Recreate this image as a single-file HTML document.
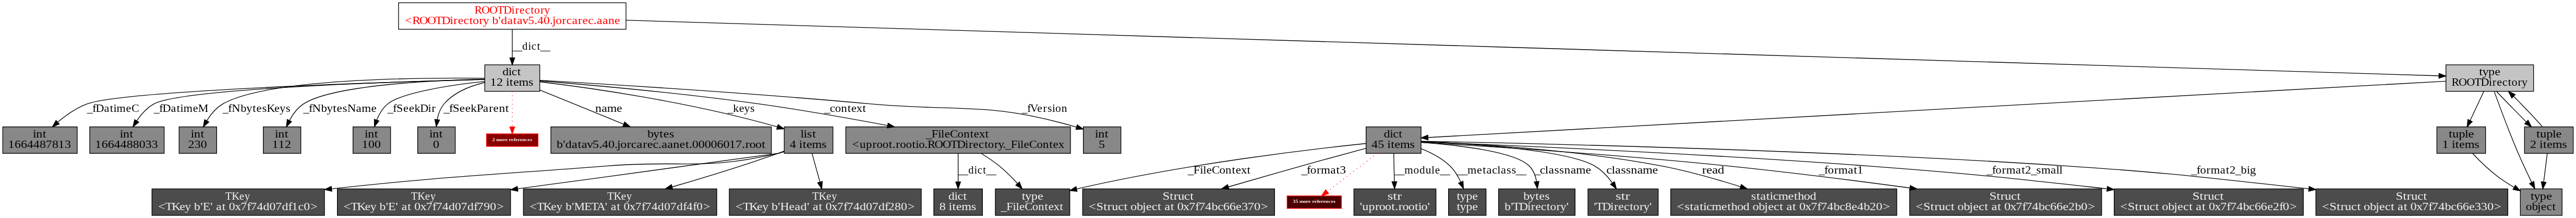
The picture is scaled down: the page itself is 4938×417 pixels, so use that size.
<!DOCTYPE html>
<html><head><meta charset="utf-8"><title>ObjectGraph</title>
<style>
html,body{margin:0;padding:0;background:#fff;}
body{width:4938px;height:417px;overflow:hidden;}
svg{display:block;will-change:transform;}
text{font-family:"Liberation Serif",serif;stroke:none;text-anchor:middle;}
</style></head>
<body>
<svg width="4938" height="417" viewBox="0 0 3703.5 312.75">
<g transform="translate(4 309)" stroke="black" stroke-width="1" font-size="15.6">
<rect x="569" y="-305" width="327" height="38" fill="#ffffff"/>
<text x="643.65 653.59 664.25 673.91 683.55 690.84 696.11 702.89 710.39 716.78 723.2 730.38 736.91" y="-289.8" transform="scale(1.0621 1)" fill="red">ROOTDirectory</text>
<text x="513.29 523.36 532.77 542.86 552 561.12 568.02 573 579.41 586.5 592.56 598.63 605.42 611.6 617.14 623.2 628.66 634.24 641.87 648.15 654.16 661.31 668.63 674.61 680.33 688.31 694.19 697.75 703.66 710.45 716.67 723.78 730.56 736.98 744.07 749.51 755.1 762.44 770.1 777.68" y="-274.8" transform="scale(1.1361 1)" fill="red">&lt;ROOTDirectory b'datav5.40.jorcarec.aane</text>
<rect x="693" y="-216" width="79" height="38" fill="#c4c4c4"/>
<text x="637.91 643.87 649.13 655.12" y="-200.8" transform="scale(1.1331 1)">dict</text>
<text x="606.39 614.4 620.32 624.28 628.72 634.65 644.1 653" y="-185.8" transform="scale(1.1629 1)">12 items</text>
<path d="M732.5,-266.97 C732.5,-255.19 732.5,-239.56 732.5,-226.16" fill="none"/>
<polygon points="736,-226 732.5,-216 729,-226 736,-226" fill="black" stroke="black"/>
<text x="738.89 745.85 753.74 760.54 766.56 773.4 779.56 786.52" y="-237.8" transform="scale(0.996 1)">__dict__</text>
<rect x="3512.5" y="-216" width="126" height="38" fill="#c4c4c4"/>
<text x="3057.61 3063.31 3070.82 3078.26" y="-200.8" transform="scale(1.1652 1)">type</text>
<text x="3308.18 3318.12 3328.78 3338.44 3348.08 3355.37 3360.64 3367.42 3374.91 3381.31 3387.73 3394.91 3401.44" y="-185.8" transform="scale(1.0659 1)">ROOTDirectory</text>
<path d="M896.08,-279.99 C1433.07,-263.56 3128.93,-211.67 3502.31,-200.24" fill="none"/>
<polygon points="3502.56,-203.73 3512.45,-199.93 3502.35,-196.74 3502.56,-203.73" fill="black" stroke="black"/>
<rect x="788" y="-127" width="317" height="38" fill="#888888"/>
<text x="790.56 797.61 803.68 809.58 816.32" y="-111.8" transform="scale(1.1781 1)">bytes</text>
<text x="687.84 693.18 698.64 706.12 712.27 718.15 725.16 732.33 738.19 743.79 751.61 757.37 760.87 766.64 773.29 779.38 786.35 792.99 799.28 806.23 811.55 817.02 824.21 831.72 839.15 845.27 849.51 855.26 862.93 870.6 878.27 885.87 893.62 900.95 908.74 914.72 919.64 926.02 933.28 939.43" y="-96.8" transform="scale(1.1642 1)">b'datav5.40.jorcarec.aanet.00006017.root</text>
<path d="M772,-179.94 C805.96,-166.14 855.24,-146.1 892.78,-130.84" fill="none"/>
<polygon points="894.11,-134.08 902.06,-127.07 891.48,-127.59 894.11,-134.08" fill="black" stroke="black"/>
<text x="744.04 751.55 760.98 770.29" y="-148.8" transform="scale(1.1508 1)">name</text>
<rect x="1212" y="-127" width="323" height="38" fill="#888888"/>
<text x="1209.82 1217.57 1223.95 1227.95 1233.73 1242.49 1251.11 1259.04 1265.81 1272 1279.42 1285.65" y="-111.8" transform="scale(1.1006 1)">_FileContext</text>
<text x="1114.33 1123.72 1131.96 1139.16 1145.88 1153.53 1160.01 1164.48 1169.68 1176.4 1184.05 1190.53 1195.08 1200.87 1206.49 1213.58 1223.29 1233.71 1243.14 1252.55 1259.68 1264.82 1271.44 1278.76 1285.01 1291.28 1298.29 1304.67 1308.69 1313.89 1321.61 1327.98 1331.97 1337.73 1346.47 1355.07 1362.98 1369.74 1375.92 1383.32" y="-96.8" transform="scale(1.1002 1)">&lt;uproot.rootio.ROOTDirectory._FileContex</text>
<path d="M772.17,-192.94 C837.76,-187.65 972.85,-175.85 1086.5,-160 1148.31,-151.38 1217.17,-139.23 1271.95,-128.95" fill="none"/>
<polygon points="1272.83,-132.34 1282.01,-127.05 1271.53,-125.47 1272.83,-132.34" fill="black" stroke="black"/>
<text x="1079.75 1086.39 1093.73 1101.58 1108.27 1114.39 1121.73 1127.89" y="-148.8" transform="scale(1.098 1)">_context</text>
<rect x="1123.5" y="-127" width="70" height="38" fill="#888888"/>
<text x="994.23 998.22 1003.26 1008.98" y="-111.8" transform="scale(1.156 1)">list</text>
<text x="974.37 980.34 984.3 988.73 994.66 1004.11 1013" y="-96.8" transform="scale(1.1657 1)">4 items</text>
<path d="M772.17,-191.62 C840.57,-183.46 984.94,-163.63 1113.56,-126.97" fill="none"/>
<polygon points="1114.55,-130.33 1123.19,-124.19 1112.61,-123.61 1114.55,-130.33" fill="black" stroke="black"/>
<text x="990.46 997.8 1005.53 1013.04 1020.21" y="-148.8" transform="scale(1.0563 1)">_keys</text>
<rect x="1553.5" y="-127" width="54" height="38" fill="#888888"/>
<text x="1355.89 1361.63 1368.04" y="-111.8" transform="scale(1.16 1)">int</text>
<text x="1361.09" y="-96.8" transform="scale(1.1608 1)">5</text>
<path d="M772.2,-193.77 C858.56,-188.79 1069.88,-175.96 1246.5,-160 1375.97,-148.3 1414.81,-163.92 1543.55,-126.69" fill="none"/>
<polygon points="1544.79,-129.98 1553.39,-123.8 1542.81,-123.26 1544.79,-129.98" fill="black" stroke="black"/>
<text x="1414.9 1421.14 1428.1 1435.61 1442.98 1449.47 1455.14 1461.25 1469.6" y="-148.8" transform="scale(1.0384 1)">_fVersion</text>
<rect x="0" y="-127" width="107" height="38" fill="#888888"/>
<text x="39.49 45.22 51.64" y="-111.8" transform="scale(1.16 1)">int</text>
<text x="10.52 18.59 26.39 34.11 41.91 49.86 57.45 65.46 72.92 81.01" y="-96.8" transform="scale(1.1537 1)">1664487813</text>
<path d="M692.87,-194.99 C565.98,-191.57 174.88,-179.56 121.5,-160 105.96,-154.31 90.99,-143.82 79.07,-133.83" fill="none"/>
<polygon points="81.16,-131.01 71.34,-127.05 76.55,-136.27 81.16,-131.01" fill="black" stroke="black"/>
<text x="117.18 123.26 130.61 139.66 146.33 151.02 159.26 169.29 178.3" y="-148.8" transform="scale(1.0686 1)">_fDatimeC</text>
<rect x="125" y="-127" width="107" height="38" fill="#888888"/>
<text x="146.89 152.63 159.04" y="-111.8" transform="scale(1.1629 1)">int</text>
<text x="119.05 127.11 134.91 142.64 150.44 158.38 166.18 173.98 181.73 189.53" y="-96.8" transform="scale(1.153 1)">1664488033</text>
<path d="M692.6,-195.09 C578.94,-192.24 258.93,-182.31 217.5,-160 207.31,-154.51 198.97,-145.09 192.66,-135.82" fill="none"/>
<polygon points="195.49,-133.76 187.23,-127.12 189.55,-137.46 195.49,-133.76" fill="black" stroke="black"/>
<text x="207.03 213.12 220.48 229.54 236.22 240.91 249.16 259.21 269.82" y="-148.8" transform="scale(1.0685 1)">_fDatimeM</text>
<rect x="253.5" y="-127" width="54" height="38" fill="#888888"/>
<text x="234.6 240.34 246.75" y="-111.8" transform="scale(1.1629 1)">int</text>
<text x="234.54 242.38 250.23" y="-96.8" transform="scale(1.1553 1)">230</text>
<path d="M692.92,-196.74 C601.75,-197.79 379.92,-196.41 316.5,-160 306.84,-154.45 299.14,-145.15 293.37,-135.99" fill="none"/>
<polygon points="296.26,-133.97 288.26,-127.02 290.18,-137.44 296.26,-133.97" fill="black" stroke="black"/>
<text x="294.8 300.86 308.57 318.62 326.21 332.72 339.06 346.29 354.82 362.85 370.32 377.44" y="-148.8" transform="scale(1.0864 1)">_fNbytesKeys</text>
<rect x="374.5" y="-127" width="54" height="38" fill="#888888"/>
<text x="339.49 345.23 351.64" y="-111.8" transform="scale(1.16 1)">int</text>
<text x="339.17 346.97 355.01" y="-96.8" transform="scale(1.1547 1)">112</text>
<path d="M692.73,-195.47 C621.27,-193.83 474.68,-187.15 432.5,-160 423.71,-154.34 417.03,-145.21 412.16,-136.23" fill="none"/>
<polygon points="415.24,-134.56 407.74,-127.08 408.94,-137.61 415.24,-134.56" fill="black" stroke="black"/>
<text x="393.51 399.38 406.87 416.63 423.99 430.3 436.45 443.46 452.23 461.52 471.33 481.01" y="-148.8" transform="scale(1.1089 1)">_fNbytesName</text>
<rect x="503.5" y="-127" width="54" height="38" fill="#888888"/>
<text x="450.7 456.44 462.85" y="-111.8" transform="scale(1.16 1)">int</text>
<text x="451.09 459.23 467.03" y="-96.8" transform="scale(1.1542 1)">100</text>
<path d="M692.6,-192.23 C646.59,-187.16 574.57,-176.79 553.5,-160 546.1,-154.11 541.01,-145.32 537.53,-136.69" fill="none"/>
<polygon points="540.82,-135.5 534.26,-127.18 534.2,-137.78 540.82,-135.5" fill="black" stroke="black"/>
<text x="519.4 525.42 531.91 540.13 547.8 555.68 564.8 572.07 577.32" y="-148.8" transform="scale(1.0728 1)">_fSeekDir</text>
<rect x="596.5" y="-127" width="54" height="38" fill="#888888"/>
<text x="530.88 536.61 543.03" y="-111.8" transform="scale(1.16 1)">int</text>
<text x="538.31" y="-96.8" transform="scale(1.1574 1)">0</text>
<path d="M692.96,-190.69 C672.7,-185.94 649.25,-176.96 634.5,-160 629.07,-153.75 626.11,-145.46 624.56,-137.39" fill="none"/>
<polygon points="628.02,-136.91 623.26,-127.44 621.08,-137.81 628.02,-136.91" fill="black" stroke="black"/>
<text x="570.36 576.13 582.37 590.25 597.61 605.17 613.26 620.35 627.21 633.69 641.4 648.02" y="-148.8" transform="scale(1.1189 1)">_fSeekParent</text>
<rect x="695.5" y="-117" width="74" height="18" fill="#880000" stroke="red"/>
<text x="635.39 638.12 641.63 645.95 649.03 651.9 654.45 656.75 659.61 662.52 664.96 668.04 670.91 674.35 677.7 680.89 683.99" y="-106.7" transform="scale(1.1106 1)" fill="#eeeeee" font-size="6.8" font-weight="bold">2 more references</text>
<path d="M732.5,-177.97 C732.5,-163.06 732.5,-141.98 732.5,-127.06" fill="none" stroke="red" stroke-dasharray="1,5"/>
<polygon points="736,-127.05 732.5,-117.05 729,-127.05 736,-127.05" fill="red" stroke="red"/>
<rect x="1960" y="-127" width="79" height="38" fill="#888888"/>
<text x="1756.37 1762.33 1767.59 1773.58" y="-111.8" transform="scale(1.133 1)">dict</text>
<text x="1694.62 1702.43 1708.36 1712.32 1716.75 1722.69 1732.14 1741.04" y="-96.8" transform="scale(1.1639 1)">45 items</text>
<path d="M3512.26,-192.51 C3253.83,-178.24 2280.75,-124.53 2049.18,-111.74" fill="none"/>
<polygon points="2049.21,-108.24 2039.03,-111.18 2048.83,-115.23 2049.21,-108.24" fill="black" stroke="black"/>
<rect x="3625.5" y="-127" width="70" height="38" fill="#888888"/>
<text x="3081.2 3087.35 3095.14 3100.85 3106.3" y="-111.8" transform="scale(1.183 1)">tuple</text>
<text x="3121.2 3127.12 3131.07 3135.51 3141.44 3150.88 3159.78" y="-96.8" transform="scale(1.1656 1)">2 items</text>
<path d="M3585.3,-177.76 C3590.56,-172.09 3596.81,-165.81 3602.5,-160 3610.74,-151.59 3619.69,-142.32 3628.12,-134.02" fill="none"/>
<polygon points="3630.61,-136.49 3635.38,-127.02 3625.75,-131.45 3630.61,-136.49" fill="black" stroke="black"/>
<rect x="3499.5" y="-127" width="70" height="38" fill="#888888"/>
<text x="2974.69 2980.84 2988.63 2994.34 2999.78" y="-111.8" transform="scale(1.183 1)">tuple</text>
<text x="3014.09 3020.25 3024.2 3028.64 3034.57 3044.01 3052.91" y="-96.8" transform="scale(1.1651 1)">1 items</text>
<path d="M3567,-177.97 C3561.34,-165.96 3553.79,-149.94 3547.4,-136.36" fill="none"/>
<polygon points="3550.41,-134.56 3542.98,-127 3544.08,-137.54 3550.41,-134.56" fill="black" stroke="black"/>
<rect x="3619.5" y="-38" width="60" height="38" fill="#888888"/>
<text x="3106.2 3111.91 3119.41 3126.86" y="-22.8" transform="scale(1.1708 1)">type</text>
<text x="3216.98 3224.77 3230.14 3235.93 3243 3249.04" y="-7.8" transform="scale(1.1289 1)">object</text>
<path d="M3582.02,-177.65 C3589.77,-156.19 3603.3,-119.7 3616.5,-89 3622.48,-75.1 3629.67,-59.9 3635.81,-47.32" fill="none"/>
<polygon points="3638.99,-48.78 3640.27,-38.27 3632.71,-45.69 3638.99,-48.78" fill="black" stroke="black"/>
<rect x="1338.5" y="-38" width="70" height="38" fill="#4c4c4c"/>
<text x="1202.71 1208.68 1213.94 1219.92" y="-22.8" transform="scale(1.134 1)" fill="#eeeeee">dict</text>
<text x="1160.44 1166.26 1170.22 1174.65 1180.58 1190.02 1198.92" y="-7.8" transform="scale(1.1643 1)" fill="#eeeeee">8 items</text>
<path d="M1373.5,-88.97 C1373.5,-77.19 1373.5,-61.56 1373.5,-48.16" fill="none"/>
<polygon points="1377,-48 1373.5,-38 1370,-48 1377,-48" fill="black" stroke="black"/>
<text x="1393.62 1400.58 1408.47 1415.28 1421.29 1428.13 1434.3 1441.26" y="-59.8" transform="scale(0.9883 1)">__dict__</text>
<rect x="1427" y="-38" width="107" height="38" fill="#4c4c4c"/>
<text x="1253.58 1259.28 1266.79 1274.24" y="-22.8" transform="scale(1.1708 1)" fill="#eeeeee">type</text>
<text x="1317.54 1325.28 1331.67 1335.67 1341.44 1350.2 1358.82 1366.75 1373.53 1379.72 1387.14 1393.37" y="-7.8" transform="scale(1.0923 1)" fill="#eeeeee">_FileContext</text>
<path d="M1406.71,-88.87 C1415.42,-83.56 1424.58,-77.43 1432.5,-71 1441.75,-63.49 1450.95,-54.26 1458.79,-45.72" fill="none"/>
<polygon points="1461.51,-47.93 1465.56,-38.14 1456.29,-43.27 1461.51,-47.93" fill="black" stroke="black"/>
<rect x="214.5" y="-38" width="248" height="38" fill="#4c4c4c"/>
<text x="324.44 334.67 343.26 351.26" y="-22.8" transform="scale(1.0007 1)" fill="#eeeeee">TKey</text>
<text x="199.95 209.27 218.32 225.95 233.05 238.62 244.71 250.2 256.44 262.65 266.32 271.95 278.26 282.62 288.52 295.98 303.17 309.97 315.63 323.57 331.56 339.52 347.18 355.24 361.91 367.45 375.16 382.6 391.7" y="-7.8" transform="scale(1.1424 1)" fill="#eeeeee">&lt;TKey b'E' at 0x7f74d07df1c0&gt;</text>
<path d="M1123.27,-91.47 C1120.34,-90.52 1117.39,-89.68 1114.5,-89 1008.21,-64.02 978.35,-79.51 869.5,-71 695.83,-57.42 649.65,-57.24 472.89,-38.12" fill="none"/>
<polygon points="473.04,-34.62 462.72,-37.02 472.28,-41.58 473.04,-34.62" fill="black" stroke="black"/>
<rect x="481" y="-38" width="249" height="38" fill="#4c4c4c"/>
<text x="591.26 601.49 610.09 618.09" y="-22.8" transform="scale(1.0007 1)" fill="#eeeeee">TKey</text>
<text x="432.47 441.78 450.84 458.46 465.56 471.12 477.21 482.71 488.94 495.14 498.82 504.44 510.75 515.11 521.01 528.47 535.65 542.45 548.11 556.05 564.04 571.99 579.65 587.71 594.38 600.03 608.17 616 625.1" y="-7.8" transform="scale(1.1443 1)" fill="#eeeeee">&lt;TKey b'E' at 0x7f74d07df790&gt;</text>
<path d="M1123.22,-91.67 C1120.3,-90.68 1117.37,-89.77 1114.5,-89 1112.22,-88.39 890.51,-58.43 740.49,-38.19" fill="none"/>
<polygon points="740.64,-34.68 730.26,-36.82 739.7,-41.62 740.64,-34.68" fill="black" stroke="black"/>
<rect x="748.5" y="-38" width="278" height="38" fill="#4c4c4c"/>
<text x="873.08 883.31 891.9 899.91" y="-22.8" transform="scale(1.0007 1)" fill="#eeeeee">TKey</text>
<text x="684.93 694.49 703.79 711.62 718.91 724.62 730.87 736.52 744.78 755.93 764.79 772.94 779.27 783.04 788.82 795.3 799.77 805.83 813.48 820.87 827.85 833.66 841.81 850.02 858.18 866.06 874.33 881.18 887.05 893.97 899.99 909.34" y="-7.8" transform="scale(1.1131 1)" fill="#eeeeee">&lt;TKey b'META' at 0x7f74d07df4f0&gt;</text>
<path d="M1123.07,-92.17 C1120.18,-91.07 1117.3,-90 1114.5,-89 1064.35,-71.16 1006.99,-53.75 962.47,-40.88" fill="none"/>
<polygon points="963.18,-37.44 952.6,-38.04 961.24,-44.17 963.18,-37.44" fill="black" stroke="black"/>
<rect x="1044.5" y="-38" width="276" height="38" fill="#4c4c4c"/>
<text x="1170.93 1181.16 1189.75 1197.76" y="-22.8" transform="scale(0.998 1)" fill="#eeeeee">TKey</text>
<text x="924.56 933.83 942.84 950.44 957.5 963.04 969.11 974.57 981.65 990.63 997.95 1005.54 1011.24 1014.89 1020.49 1026.77 1031.11 1036.99 1044.41 1051.56 1058.33 1063.96 1071.87 1079.82 1087.75 1095.37 1103.39 1110.03 1115.78 1123.72 1131.56 1140.62" y="-7.8" transform="scale(1.145 1)" fill="#eeeeee">&lt;TKey b'Head' at 0x7f74d07df280&gt;</text>
<path d="M1163.47,-88.97 C1166.76,-77.08 1171.12,-61.25 1174.84,-47.76" fill="none"/>
<polygon points="1178.25,-48.57 1177.53,-38 1171.5,-46.71 1178.25,-48.57" fill="black" stroke="black"/>
<path d="M1959.76,-103.14 C1881.69,-95.1 1702.86,-74.39 1543.98,-37.98" fill="none"/>
<polygon points="1544.56,-34.52 1534.02,-35.67 1542.97,-41.34 1544.56,-34.52" fill="black" stroke="black"/>
<text x="1556.37 1564.11 1570.5 1574.49 1580.27 1589.03 1597.65 1605.58 1612.36 1618.55 1625.97 1632.19" y="-59.8" transform="scale(1.0975 1)">_FileContext</text>
<rect x="1942.5" y="-38" width="118" height="38" fill="#4c4c4c"/>
<text x="1534.91 1540.13 1545.08" y="-22.8" transform="scale(1.2996 1)" fill="#eeeeee">str</text>
<text x="1687.36 1692.89 1700.73 1707.57 1713.96 1721.23 1727.4 1731.65 1736.59 1742.98 1750.26 1756.42 1760.75 1766.26 1771.55" y="-7.8" transform="scale(1.1572 1)" fill="#eeeeee">'uproot.rootio'</text>
<path d="M1999.82,-88.59 C2000,-78.89 2000.24,-66.8 2000.5,-56 2000.56,-53.57 2000.62,-51.06 2000.69,-48.53" fill="none"/>
<polygon points="2004.19,-48.4 2000.96,-38.31 1997.19,-48.22 2004.19,-48.4" fill="black" stroke="black"/>
<text x="1967.47 1974.26 1984.11 1994.61 2002.99 2011.72 2018.29 2024.45 2031.89 2038.68" y="-59.8" transform="scale(1.0188 1)">__module__</text>
<rect x="2078.5" y="-38" width="54" height="38" fill="#4c4c4c"/>
<text x="1808.87 1814.58 1822.08 1829.53" y="-22.8" transform="scale(1.157 1)" fill="#eeeeee">type</text>
<text x="1808.87 1814.58 1822.08 1829.53" y="-7.8" transform="scale(1.157 1)" fill="#eeeeee">type</text>
<path d="M2039.07,-95.74 C2053.44,-90.13 2068.97,-82.1 2080.5,-71 2087.14,-64.61 2092.26,-56.09 2096.09,-47.85" fill="none"/>
<polygon points="2099.39,-49.02 2100,-38.44 2092.93,-46.33 2099.39,-49.02" fill="black" stroke="black"/>
<text x="1956.56 1963.08 1972.54 1982.54 1989.16 1995.54 2003.07 2008.84 2014.79 2022.05 2028.74 2035.36 2041.88" y="-59.8" transform="scale(1.0708 1)">__metaclass__</text>
<rect x="2150.5" y="-38" width="110" height="38" fill="#4c4c4c"/>
<text x="1888.17 1895.22 1901.29 1907.19 1913.92" y="-22.8" transform="scale(1.1602 1)" fill="#eeeeee">bytes</text>
<text x="1932.75 1938.27 1944.11 1953.33 1960.29 1965.32 1971.8 1978.96 1985.07 1991.2 1998.06 2004.3 2009.62" y="-7.8" transform="scale(1.1194 1)" fill="#eeeeee">b'TDirectory'</text>
<path d="M2039.22,-104.77 C2089.7,-101.1 2172.88,-91.98 2194.5,-71 2200.53,-65.14 2203.64,-56.83 2205.14,-48.61" fill="none"/>
<polygon points="2208.65,-48.77 2206.3,-38.44 2201.69,-47.99 2208.65,-48.77" fill="black" stroke="black"/>
<text x="1960.06 1966.62 1972.12 1977.79 1984.71 1991.09 1998.29 2005.97 2015.62 2025.15" y="-59.8" transform="scale(1.1256 1)">_classname</text>
<rect x="2279" y="-38" width="101" height="38" fill="#4c4c4c"/>
<text x="1781.87 1787.1 1792.05" y="-22.8" transform="scale(1.3035 1)" fill="#eeeeee">str</text>
<text x="2040.41 2046.27 2055.5 2062.48 2067.52 2074.01 2081.19 2087.31 2093.46 2100.33 2106.59 2111.91" y="-7.8" transform="scale(1.1218 1)" fill="#eeeeee">'TDirectory'</text>
<path d="M2039.13,-105.71 C2108.04,-102.87 2246.61,-94.37 2288.5,-71 2298.83,-65.24 2307.54,-55.73 2314.24,-46.47" fill="none"/>
<polygon points="2317.15,-48.41 2319.81,-38.15 2311.34,-44.51 2317.15,-48.41" fill="black" stroke="black"/>
<text x="1991.38 1996.75 2002.27 2009.03 2015.26 2022.28 2029.78 2039.2 2048.5" y="-59.8" transform="scale(1.1597 1)">classname</text>
<rect x="2398" y="-38" width="325" height="38" fill="#4c4c4c"/>
<text x="2140.63 2146.24 2152.12 2158.26 2162.57 2167.77 2176.9 2186.12 2192.23 2198.51 2205.93 2213.35" y="-22.8" transform="scale(1.1759 1)" fill="#eeeeee">staticmethod</text>
<text x="2060.95 2069.1 2074.73 2080.61 2086.77 2091.09 2096.31 2105.45 2114.7 2120.83 2127.12 2134.56 2141.99 2147.84 2153.39 2161.05 2166.34 2172.03 2178.98 2184.91 2189.16 2194.64 2200.79 2205.04 2210.8 2218.07 2225.07 2231.7 2237.21 2244.96 2252.98 2260.02 2267.27 2274.65 2281.94 2289.96 2297.4 2305.17 2314.05" y="-7.8" transform="scale(1.1703 1)" fill="#eeeeee">&lt;staticmethod object at 0x7f74bc8e4b20&gt;</text>
<path d="M2039.2,-105.76 C2109.4,-103.01 2259.85,-94.67 2384.5,-71 2422.9,-63.71 2464.99,-51.67 2498.37,-41.12" fill="none"/>
<polygon points="2499.53,-44.42 2507.99,-38.04 2497.4,-37.75 2499.53,-44.42" fill="black" stroke="black"/>
<text x="2040.14 2046.21 2053.12 2060.29" y="-59.8" transform="scale(1.199 1)">read</text>
<rect x="2741.5" y="-38" width="276" height="38" fill="#4c4c4c"/>
<text x="2393.78 2400.24 2405.44 2411.88 2418.95 2424.73" y="-22.8" transform="scale(1.1953 1)" fill="#eeeeee">Struct</text>
<text x="2346.04 2355.23 2361.84 2367.16 2373.75 2380.98 2386.9 2391.13 2396.65 2404.29 2409.57 2415.23 2422.15 2428.07 2432.3 2437.75 2443.89 2448.12 2453.85 2461.1 2468.07 2474.68 2480.17 2487.89 2495.88 2502.9 2510.04 2517.69 2525.12 2532.45 2540.38 2547.88 2556.73" y="-7.8" transform="scale(1.1745 1)" fill="#eeeeee">&lt;Struct object at 0x7f74bc66e2b0&gt;</text>
<path d="M2039.07,-104.73 C2121.25,-99.86 2316.33,-87.51 2479.5,-71 2566.82,-62.16 2664.55,-49.75 2741.55,-39.38" fill="none"/>
<polygon points="2742.35,-42.81 2751.79,-38 2741.41,-35.87 2742.35,-42.81" fill="black" stroke="black"/>
<text x="2353.91 2359.76 2365.53 2372.48 2381.35 2391.05 2397.48 2403.58" y="-59.8" transform="scale(1.111 1)">_format1</text>
<rect x="3035.5" y="-38" width="272" height="38" fill="#4c4c4c"/>
<text x="2642.93 2649.38 2654.58 2661.02 2668.09 2673.87" y="-22.8" transform="scale(1.1931 1)" fill="#eeeeee">Struct</text>
<text x="2603.37 2612.59 2619.22 2624.56 2631.16 2638.42 2644.35 2648.59 2654.14 2661.8 2667.08 2672.76 2679.71 2685.64 2689.89 2695.36 2701.51 2705.76 2711.51 2718.77 2725.76 2732.39 2737.9 2745.64 2753.66 2760.69 2767.86 2775.53 2782.98 2790.33 2796.83 2802.56 2811.43" y="-7.8" transform="scale(1.1713 1)" fill="#eeeeee">&lt;Struct object at 0x7f74bc66e2f0&gt;</text>
<path d="M2039.01,-105.49 C2143.6,-101.36 2436.33,-88.99 2679.5,-71 2830.68,-59.81 2870.8,-55.08 3024.96,-38.16" fill="none"/>
<polygon points="3025.73,-41.59 3035.29,-37.02 3024.96,-34.64 3025.73,-41.59" fill="black" stroke="black"/>
<text x="2603.36 2609.3 2615.13 2622.18 2631.16 2640.98 2647.49 2653.92 2661.28 2667.75 2677.11 2686.93 2692.81 2696.9" y="-59.8" transform="scale(1.0972 1)">_format2_small</text>
<rect x="3325.5" y="-38" width="276" height="38" fill="#4c4c4c"/>
<text x="2885.73 2892.18 2897.39 2903.82 2910.9 2916.67" y="-22.8" transform="scale(1.194 1)" fill="#eeeeee">Struct</text>
<text x="2842 2851.19 2857.8 2863.12 2869.71 2876.95 2882.86 2887.09 2892.62 2900.26 2905.54 2911.2 2918.13 2924.04 2928.27 2933.73 2939.87 2944.1 2949.83 2957.08 2964.05 2970.66 2976.16 2983.88 2991.87 2998.89 3006.03 3013.69 3021.12 3028.48 3036.13 3043.84 3052.68" y="-7.8" transform="scale(1.175 1)" fill="#eeeeee">&lt;Struct object at 0x7f74bc66e330&gt;</text>
<path d="M2039.11,-106.33 C2170.85,-103.91 2606.29,-94.56 2965.5,-71 3118.65,-60.96 3159.08,-55.1 3315.43,-38.11" fill="none"/>
<polygon points="3315.84,-41.58 3325.41,-37.02 3315.09,-34.62 3315.84,-41.58" fill="black" stroke="black"/>
<text x="2886.62 2892.56 2898.41 2905.47 2914.47 2924.31 2930.83 2937.27 2944.65 2952.11 2958.16 2964.18" y="-59.8" transform="scale(1.0914 1)">_format2_big</text>
<rect x="1552.5" y="-38" width="276" height="38" fill="#4c4c4c"/>
<text x="1400.76 1407.21 1412.41 1418.85 1425.92 1431.7" y="-22.8" transform="scale(1.194 1)" fill="#eeeeee">Struct</text>
<text x="1333.1 1342.29 1348.89 1354.22 1360.81 1368.04 1373.96 1378.19 1383.72 1391.36 1396.63 1402.3 1409.22 1415.14 1419.37 1424.83 1430.96 1435.2 1440.93 1448.18 1455.15 1461.76 1467.25 1474.98 1482.97 1489.98 1497.13 1504.78 1512.21 1519.58 1527.07 1534.93 1543.78" y="-7.8" transform="scale(1.175 1)" fill="#eeeeee">&lt;Struct object at 0x7f74bc66e370&gt;</text>
<path d="M1959.89,-96.36 C1933.66,-89.27 1898.49,-79.69 1867.5,-71 1832.76,-61.26 1794.26,-50.2 1762.06,-40.87" fill="none"/>
<polygon points="1762.86,-37.46 1752.28,-38.04 1760.91,-44.18 1762.86,-37.46" fill="black" stroke="black"/>
<text x="1681.32 1687.18 1692.94 1699.9 1708.77 1718.46 1724.89 1731.28" y="-59.8" transform="scale(1.1129 1)">_format3</text>
<rect x="1846.5" y="-28" width="78" height="18" fill="#4c0000" stroke="red"/>
<text x="1665.08 1668.62 1671.26 1674.76 1679.07 1682.15 1685 1687.55 1689.84 1692.7 1695.6 1698.03 1701.11 1703.97 1707.41 1710.74 1713.93 1717.01" y="-17.7" transform="scale(1.115 1)" fill="#eeeeee" font-size="6.8" font-weight="bold">35 more references</text>
<path d="M1975.88,-88.97 C1954.61,-72.75 1923.78,-49.21 1904.19,-34.26" fill="none" stroke="red" stroke-dasharray="1,5"/>
<polygon points="1906.13,-31.34 1896.05,-28.05 1901.88,-36.9 1906.13,-31.34" fill="red" stroke="red"/>
<path d="M3651.33,-127.02 C3642.99,-136.82 3631.16,-149.13 3620.5,-160 3617.12,-163.45 3613.54,-167.06 3609.92,-170.62" fill="none"/>
<polygon points="3607.27,-168.31 3602.47,-177.76 3612.11,-173.37 3607.27,-168.31" fill="black" stroke="black"/>
<path d="M3658.22,-88.97 C3656.73,-77.19 3654.75,-61.56 3653.06,-48.16" fill="none"/>
<polygon points="3656.5,-47.49 3651.78,-38 3649.56,-48.36 3656.5,-47.49" fill="black" stroke="black"/>
<path d="M3550.82,-88.82 C3560.59,-78.51 3573.59,-65.76 3586.5,-56 3593.95,-50.36 3602.38,-44.97 3610.58,-40.16" fill="none"/>
<polygon points="3612.38,-43.16 3619.34,-35.17 3608.92,-37.07 3612.38,-43.16" fill="black" stroke="black"/>
</g>
</svg>
</body></html>
